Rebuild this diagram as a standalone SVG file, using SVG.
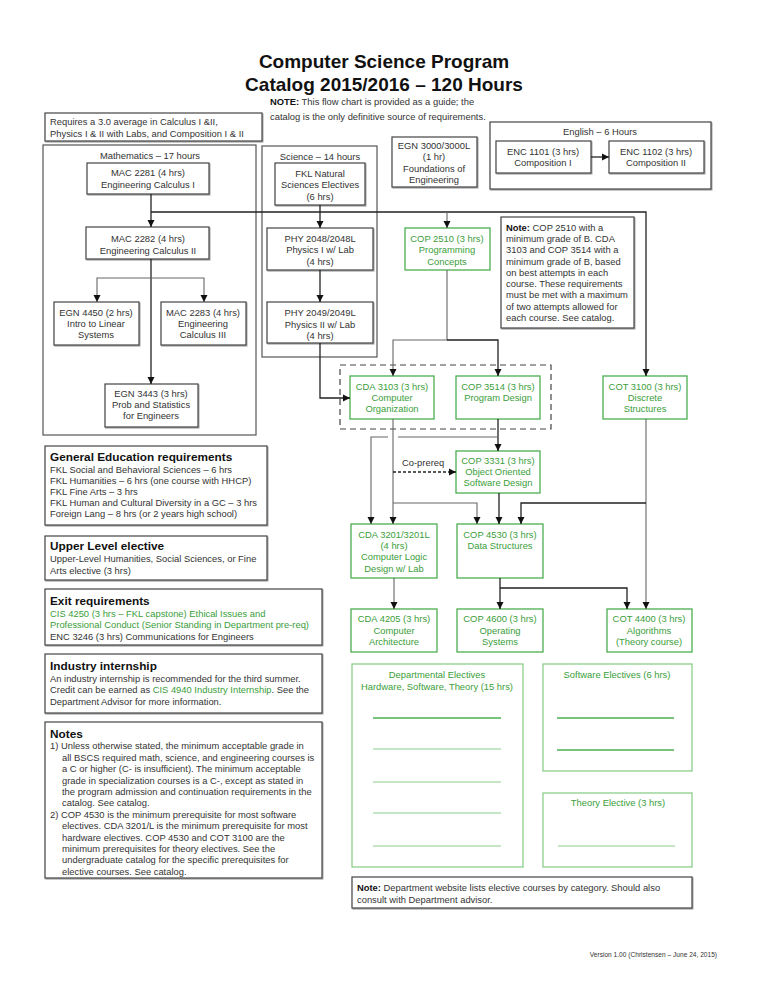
<svg xmlns="http://www.w3.org/2000/svg" width="768" height="994" viewBox="0 0 768 994">
<style>
text{font-family:"Liberation Sans",Arial,sans-serif;font-size:9.4px;fill:#333}
.c{text-anchor:middle}
.g{fill:#3a9e3a}
.t{font-size:19px;font-weight:bold;fill:#111;text-anchor:middle}
.h{font-size:11.8px;font-weight:bold;fill:#111}
.v{font-size:6.6px;text-anchor:end}
.b{fill:#fff;stroke:#444;stroke-width:1.2;filter:url(#sh)}
.bg{fill:#fff;stroke:#4caf50;stroke-width:1.3}
.bl{fill:#fff;stroke:#8ccf8c;stroke-width:1.3}
.grp{fill:none;stroke:#555;stroke-width:1.2}
.ln{fill:none;stroke:#222;stroke-width:1.3}
.lg{fill:none;stroke:#666;stroke-width:1.1}
.el{stroke:#8ccf8c;stroke-width:1}
.elk{stroke:#4caf50;stroke-width:1.6}
</style>
<defs>
<marker id="ah" markerWidth="8" markerHeight="8" refX="7" refY="4" orient="auto" markerUnits="userSpaceOnUse">
<path d="M0,0.5 L7,4 L0,7.5 z" fill="#111"/>
</marker>
<filter id="sh" x="-5%" y="-5%" width="110%" height="115%">
<feDropShadow dx="0.8" dy="1" stdDeviation="0.5" flood-color="#888" flood-opacity="0.8"/>
</filter>
</defs>
<rect width="768" height="994" fill="#fff"/>

<g id="title">
<text class="t" x="384" y="68">Computer Science Program</text>
<text class="t" x="384" y="91">Catalog 2015/2016 – 120 Hours</text>
<text x="270" y="105"><tspan font-weight="bold" fill="#111">NOTE:</tspan> This flow chart is provided as a guide; the</text>
<text x="270" y="120">catalog is the only definitive source of requirements.</text>
</g>

<g id="requires">
<rect class="b" x="45" y="113" width="217" height="28"/>
<text x="50" y="125">Requires a 3.0 average in Calculus I &amp;II,</text>
<text x="50" y="137">Physics I &amp; II with Labs, and Composition I &amp; II</text>
</g>

<g id="math-group">
<rect class="grp" x="43" y="145" width="213" height="290"/>
<text class="c" x="150" y="159">Mathematics – 17  hours</text>
</g>
<g id="mac2281"><rect class="b" x="87" y="163" width="122" height="31"/>
<text class="c" x="148" y="176">MAC 2281 (4 hrs)</text><text class="c" x="148" y="188">Engineering Calculus I</text></g>
<g id="mac2282"><rect class="b" x="86" y="227" width="123" height="32"/>
<text class="c" x="148" y="242">MAC 2282 (4 hrs)</text><text class="c" x="148" y="254">Engineering Calculus II</text></g>
<g id="egn4450"><rect class="b" x="54" y="302" width="85" height="43"/>
<text class="c" x="96" y="316">EGN 4450 (2 hrs)</text><text class="c" x="96" y="327">Intro to Linear</text><text class="c" x="96" y="338">Systems</text></g>
<g id="mac2283"><rect class="b" x="161" y="302" width="85" height="43"/>
<text class="c" x="203" y="316">MAC 2283 (4 hrs)</text><text class="c" x="203" y="327">Engineering</text><text class="c" x="203" y="338">Calculus  III</text></g>
<g id="egn3443"><rect class="b" x="105" y="384" width="93" height="43"/>
<text class="c" x="151" y="397">EGN 3443 (3 hrs)</text><text class="c" x="151" y="408">Prob and Statistics</text><text class="c" x="151" y="419">for Engineers</text></g>

<g id="science-group">
<rect class="grp" x="262" y="146" width="115" height="211"/>
<text class="c" x="320" y="160">Science – 14 hours</text>
</g>
<g id="fkl-natural"><rect class="b" x="275" y="163" width="90" height="42"/>
<text class="c" x="320" y="177">FKL Natural</text><text class="c" x="320" y="188">Sciences Electives</text><text class="c" x="320" y="200">(6 hrs)</text></g>
<g id="phy2048"><rect class="b" x="267" y="228" width="106" height="42"/>
<text class="c" x="320" y="242">PHY 2048/2048L</text><text class="c" x="320" y="253">Physics I w/ Lab</text><text class="c" x="320" y="265">(4 hrs)</text></g>
<g id="phy2049"><rect class="b" x="267" y="302" width="106" height="41"/>
<text class="c" x="320" y="316">PHY 2049/2049L</text><text class="c" x="320" y="328">Physics II w/ Lab</text><text class="c" x="320" y="339">(4 hrs)</text></g>

<g id="egn3000"><rect class="b" x="392" y="137" width="85" height="50"/>
<text class="c" x="434" y="149">EGN 3000/3000L</text><text class="c" x="434" y="160">(1 hr)</text><text class="c" x="434" y="172">Foundations of</text><text class="c" x="434" y="183">Engineering</text></g>

<g id="english-group">
<rect class="b" x="490" y="122" width="221" height="67"/>
<text class="c" x="600" y="135">English – 6 Hours</text>
</g>
<g id="enc1101"><rect class="b" x="496" y="141" width="95" height="32"/>
<text class="c" x="543" y="155">ENC 1101 (3 hrs)</text><text class="c" x="543" y="166">Composition I</text></g>
<g id="enc1102"><rect class="b" x="609" y="141" width="95" height="32"/>
<text class="c" x="656" y="155">ENC 1102 (3 hrs)</text><text class="c" x="656" y="166">Composition II</text></g>

<g id="cop2510"><rect class="bg" x="405" y="228" width="85" height="42"/>
<text class="c g" x="447" y="242">COP 2510 (3 hrs)</text><text class="c g" x="447" y="253">Programming</text><text class="c g" x="447" y="265">Concepts</text></g>

<g id="note-grade"><rect class="b" x="501" y="217" width="133" height="111"/>
<text x="506" y="231"><tspan font-weight="bold" fill="#111">Note:</tspan> COP 2510 with a</text>
<text x="506" y="242">minimum grade of B. CDA</text>
<text x="506" y="253">3103 and COP 3514 with a</text>
<text x="506" y="265">minimum grade of B, based</text>
<text x="506" y="276">on best attempts in each</text>
<text x="506" y="287">course. These requirements</text>
<text x="506" y="298">must be met with a maximum</text>
<text x="506" y="310">of two attempts allowed for</text>
<text x="506" y="321">each course. See catalog.</text>
</g>

<g id="core-group"><rect x="340" y="365" width="211" height="64" fill="none" stroke="#444" stroke-width="1.2" stroke-dasharray="6,4"/></g>
<g id="cda3103"><rect class="bg" x="350" y="376" width="84" height="43"/>
<text class="c g" x="392" y="390">CDA 3103 (3 hrs)</text><text class="c g" x="392" y="401">Computer</text><text class="c g" x="392" y="412">Organization</text></g>
<g id="cop3514"><rect class="bg" x="456" y="376" width="84" height="43"/>
<text class="c g" x="498" y="390">COP 3514 (3 hrs)</text><text class="c g" x="498" y="401">Program Design</text></g>
<g id="cot3100"><rect class="bg" x="603" y="376" width="84" height="43"/>
<text class="c g" x="645" y="390">COT 3100 (3 hrs)</text><text class="c g" x="645" y="401">Discrete</text><text class="c g" x="645" y="412">Structures</text></g>
<g id="cop3331"><rect class="bg" x="456" y="451" width="84" height="42"/>
<text class="c g" x="498" y="464">COP 3331 (3 hrs)</text><text class="c g" x="498" y="475">Object Oriented</text><text class="c g" x="498" y="486">Software Design</text></g>
<g id="cda3201"><rect class="bg" x="351" y="524" width="86" height="54"/>
<text class="c g" x="394" y="538">CDA 3201/3201L</text><text class="c g" x="394" y="549">(4 hrs)</text><text class="c g" x="394" y="560">Computer Logic</text><text class="c g" x="394" y="572">Design w/ Lab</text></g>
<g id="cop4530"><rect class="bg" x="457" y="524" width="86" height="54"/>
<text class="c g" x="500" y="538">COP 4530 (3 hrs)</text><text class="c g" x="500" y="549">Data Structures</text></g>
<g id="cda4205"><rect class="bg" x="351" y="609" width="86" height="43"/>
<text class="c g" x="394" y="622">CDA 4205 (3 hrs)</text><text class="c g" x="394" y="634">Computer</text><text class="c g" x="394" y="645">Architecture</text></g>
<g id="cop4600"><rect class="bg" x="457" y="609" width="86" height="43"/>
<text class="c g" x="500" y="622">COP 4600 (3 hrs)</text><text class="c g" x="500" y="634">Operating</text><text class="c g" x="500" y="645">Systems</text></g>
<g id="cot4400"><rect class="bg" x="607" y="609" width="85" height="43"/>
<text class="c g" x="649" y="622">COT 4400 (3 hrs)</text><text class="c g" x="649" y="634">Algorithms</text><text class="c g" x="649" y="645">(Theory course)</text></g>

<g id="dept-electives"><rect class="bl" x="352" y="664" width="171" height="203"/>
<text class="c g" x="437" y="678">Departmental Electives</text><text class="c g" x="437" y="690">Hardware, Software, Theory (15 hrs)</text>
<line class="elk" x1="373" y1="718" x2="501" y2="718"/>
<line class="el" x1="373" y1="749" x2="501" y2="749"/>
<line class="el" x1="373" y1="782" x2="501" y2="782"/>
<line class="el" x1="373" y1="813" x2="501" y2="813"/>
<line class="el" x1="373" y1="846" x2="501" y2="846"/>
</g>
<g id="software-electives"><rect class="bl" x="543" y="664" width="149" height="107"/>
<text class="c g" x="617" y="678">Software Electives (6 hrs)</text>
<line class="elk" x1="557" y1="718" x2="674" y2="718"/>
<line class="elk" x1="557" y1="750" x2="674" y2="750"/>
</g>
<g id="theory-elective"><rect class="bl" x="543" y="793" width="149" height="74"/>
<text class="c g" x="618" y="806">Theory Elective (3 hrs)</text>
<line class="el" x1="558" y1="846" x2="675" y2="846"/>
</g>
<g id="note-dept"><rect class="b" x="352" y="877" width="340" height="31"/>
<text x="357" y="891"><tspan font-weight="bold" fill="#111">Note:</tspan> Department website lists elective courses by category. Should also</text>
<text x="357" y="903">consult with Department advisor.</text>
</g>

<g id="gen-ed"><rect class="b" x="45" y="446" width="222" height="79"/>
<text class="h" x="50" y="461">General Education requirements</text>
<text x="50" y="473">FKL Social and Behavioral Sciences – 6 hrs</text>
<text x="50" y="484">FKL Humanities – 6 hrs (one course with HHCP)</text>
<text x="50" y="495">FKL Fine Arts – 3 hrs</text>
<text x="50" y="506">FKL Human and Cultural Diversity in a GC – 3 hrs</text>
<text x="50" y="517">Foreign Lang – 8 hrs (or 2 years high school)</text>
</g>
<g id="upper-level"><rect class="b" x="45" y="536" width="222" height="44"/>
<text class="h" x="50" y="550">Upper Level elective</text>
<text x="50" y="562">Upper-Level Humanities, Social Sciences, or Fine</text>
<text x="50" y="574">Arts elective (3 hrs)</text>
</g>
<g id="exit"><rect class="b" x="45" y="589" width="277" height="56"/>
<text class="h" x="50" y="605">Exit requirements</text>
<text class="g" x="50" y="617">CIS 4250 (3 hrs – FKL capstone) Ethical Issues and</text>
<text class="g" x="50" y="628">Professional Conduct (Senior Standing in Department pre-req)</text>
<text x="50" y="640">ENC 3246 (3 hrs) Communications for Engineers</text>
</g>
<g id="internship"><rect class="b" x="45" y="654" width="277" height="59"/>
<text class="h" x="50" y="670">Industry internship</text>
<text x="50" y="682">An industry internship is recommended for the third summer.</text>
<text x="50" y="693">Credit can be earned as <tspan class="g">CIS 4940 Industry Internship</tspan>. See the</text>
<text x="50" y="705">Department Advisor for more information.</text>
</g>
<g id="notes"><rect class="b" x="45" y="722" width="277" height="156"/>
<text class="h" x="50" y="738">Notes</text>
<text x="50" y="749">1) Unless otherwise stated, the minimum acceptable grade in</text>
<text x="62" y="761">all BSCS required math, science, and engineering courses is</text>
<text x="62" y="772">a C or higher (C- is insufficient). The minimum acceptable</text>
<text x="62" y="784">grade in specialization courses is a C-, except as stated in</text>
<text x="62" y="795">the program admission and continuation requirements in the</text>
<text x="62" y="806">catalog. See catalog.</text>
<text x="50" y="818">2) COP 4530 is the minimum prerequisite for most software</text>
<text x="62" y="829">electives. CDA 3201/L is the minimum prerequisite for most</text>
<text x="62" y="841">hardware electives. COP 4530 and COT 3100 are the</text>
<text x="62" y="852">minimum prerequisites for theory electives. See the</text>
<text x="62" y="863">undergraduate catalog for the specific prerequisites for</text>
<text x="62" y="875">elective courses. See catalog.</text>
</g>

<g id="connectors">
<path class="ln" d="M151,194 V227" marker-end="url(#ah)"/>
<path class="ln" d="M151,212 H646 V376" marker-end="url(#ah)" stroke="#444"/>
<path class="ln" d="M320,205 V228" marker-end="url(#ah)"/>
<path class="lg" d="M447,212 V228" marker-end="url(#ah)"/>
<path class="ln" d="M320,270 V302" marker-end="url(#ah)"/>
<path class="ln" d="M320,343 V398 H350" marker-end="url(#ah)"/>
<path class="ln" d="M151,259 V384" marker-end="url(#ah)"/>
<path class="lg" d="M151,278 H97 V302" marker-end="url(#ah)"/>
<path class="lg" d="M151,278 H204 V302" marker-end="url(#ah)"/>
<path class="ln" d="M591,157 H609" marker-end="url(#ah)"/>
<path class="lg" d="M447,270 V340 H393 V376" marker-end="url(#ah)"/>
<path class="ln" d="M447,340 H498 V376" marker-end="url(#ah)"/>
<path class="lg" d="M393,419 V524" marker-end="url(#ah)"/>
<path class="lg" d="M393,503 H477 V524" marker-end="url(#ah)"/>
<path class="ln" d="M498,419 V451" marker-end="url(#ah)"/>
<path class="lg" d="M498,437 H398 M388,437 H371 V524" marker-end="url(#ah)"/>
<path class="ln" d="M393,472 H456" stroke-dasharray="3,2" marker-end="url(#ah)"/>
<text x="402" y="466">Co-prereq</text>
<path class="ln" d="M499,493 V524" marker-end="url(#ah)"/>
<path class="lg" d="M646,419 V609" marker-end="url(#ah)"/>
<path class="ln" d="M646,503 H521 V524" marker-end="url(#ah)"/>
<path class="lg" d="M394,578 V609" marker-end="url(#ah)"/>
<path class="ln" d="M500,578 V609" marker-end="url(#ah)"/>
<path class="ln" d="M500,588 H627 V609" marker-end="url(#ah)"/>
</g>

<g id="version"><text class="v" x="717" y="957">Version 1.00 (Christensen – June 24, 2015)</text></g>
</svg>
